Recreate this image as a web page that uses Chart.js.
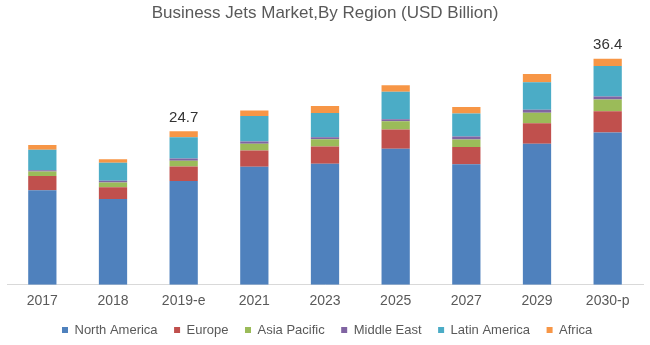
<!DOCTYPE html>
<html>
<head>
<meta charset="utf-8">
<script src="https://cdn.jsdelivr.net/npm/chart.js@4/dist/chart.umd.min.js"></script>
<style>
  html, body { margin: 0; padding: 0; background: #fff; }
  #wrap { width: 650px; height: 345px; position: relative; }
</style>
</head>
<body>
<div id="wrap"><canvas id="c"></canvas></div>
<script>
const categories = ['2017', '2018', '2019-e', '2021', '2023', '2025', '2027', '2029', '2030-p'];
const northAmerica = [15.2, 13.8, 16.7, 19.0, 19.5, 21.9, 19.4, 22.7, 24.5];
const europe       = [2.3, 1.9, 2.35, 2.6, 2.75, 3.1, 2.8, 3.3, 3.45];
const asiaPacific  = [0.75, 0.75, 0.9, 1.1, 1.2, 1.35, 1.2, 1.7, 1.9];
const middleEast   = [0.2, 0.3, 0.37, 0.37, 0.32, 0.32, 0.48, 0.48, 0.48];
const latinAmerica = [3.3, 2.9, 3.45, 4.1, 3.9, 4.4, 3.7, 4.45, 4.92];
const africa       = [0.75, 0.55, 0.93, 0.9, 1.1, 1.05, 1.05, 1.3, 1.15];
const seriesNames  = ['North America', 'Europe', 'Asia Pacific', 'Middle East', 'Latin America', 'Africa'];
const labeledCategories = ['2019-e', '2030-p'];

const seriesValues = [northAmerica, europe, asiaPacific, middleEast, latinAmerica, africa];
const colors = ['#4F81BD', '#C0504D', '#9BBB59', '#8064A2', '#4BACC6', '#F79646'];
const FONT = "'Liberation Sans', Arial, sans-serif";
const LEGEND_FONT_SIZE = 13;
const LEGEND_PAD = 16.5;

const totalsPlugin = {
  id: 'totals',
  afterDatasetsDraw(chart) {
    const ctx = chart.ctx;
    const xs = chart.scales.x, ys = chart.scales.y;
    ctx.save();
    ctx.font = '15px ' + FONT;
    ctx.fillStyle = '#333333';
    ctx.textAlign = 'center';
    ctx.textBaseline = 'middle';
    categories.forEach((cat, i) => {
      if (!labeledCategories.includes(cat)) return;
      const total = seriesValues.reduce((s, arr) => s + arr[i], 0);
      ctx.fillText(total.toFixed(1), xs.getPixelForValue(i), ys.getPixelForValue(total) - 14);
    });
    ctx.restore();
  }
};

const legendShift = {
  id: 'legendShift',
  afterLayout(chart) {
    const lg = chart.legend;
    if (!lg || !lg.lineWidths) return;
    const curX = (lg.left + LEGEND_PAD + lg.right - lg.lineWidths[0]) / 2;
    const dx = 62 - curX;
    lg.left += dx; lg.right += dx;
    const dy = 330 - (lg.top + LEGEND_PAD + LEGEND_FONT_SIZE / 2);
    lg.top += dy; lg.bottom += dy;
  }
};

new Chart(document.getElementById('c'), {
  type: 'bar',
  data: {
    labels: categories,
    datasets: seriesNames.map((name, k) => ({
      label: name,
      data: seriesValues[k],
      backgroundColor: colors[k],
      borderWidth: 0,
      categoryPercentage: 1.0,
      barPercentage: 0.4
    }))
  },
  options: {
    responsive: true,
    maintainAspectRatio: false,
    animation: false,
    layout: { padding: { left: 7, right: 7, top: 0, bottom: -12 } },
    plugins: {
      title: {
        display: true,
        text: 'Business Jets Market,By Region (USD Billion)',
        color: '#595959',
        font: { family: FONT, size: 17, weight: 'normal' },
        padding: { top: 3, bottom: 13 }
      },
      legend: {
        position: 'bottom',
        labels: {
          boxWidth: 6,
          boxHeight: 6,
          padding: LEGEND_PAD,
          color: '#595959',
          font: { family: FONT, size: LEGEND_FONT_SIZE }
        }
      },
      tooltip: { enabled: false }
    },
    scales: {
      x: {
        stacked: true,
        grid: { display: false, drawTicks: false },
        border: { display: true, color: '#d9d9d9', width: 1 },
        ticks: { color: '#595959', font: { family: FONT, size: 14 }, padding: 8 }
      },
      y: {
        stacked: true,
        display: false,
        min: 0,
        max: 40
      }
    }
  },
  plugins: [totalsPlugin, legendShift]
});
</script>
</body>
</html>
